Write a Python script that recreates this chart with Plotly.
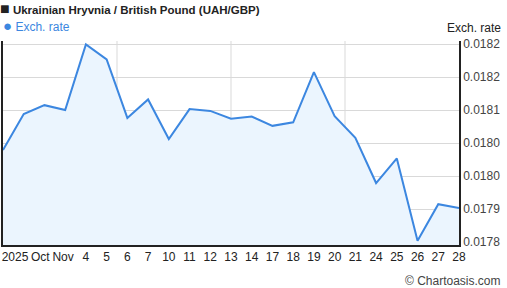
import plotly.graph_objects as go

# ---- data ----
dates = ["2025-10-29", "2025-10-30", "2025-10-31", "2025-11-03", "2025-11-04", "2025-11-05",
         "2025-11-06", "2025-11-07", "2025-11-10", "2025-11-11", "2025-11-12", "2025-11-13",
         "2025-11-14", "2025-11-17", "2025-11-18", "2025-11-19", "2025-11-20", "2025-11-21",
         "2025-11-24", "2025-11-25", "2025-11-26", "2025-11-27", "2025-11-28"]
rates = [0.018009, 0.018091, 0.018111, 0.018100, 0.018249, 0.018215,
         0.018082, 0.018124, 0.018034, 0.018102, 0.018098, 0.018080,
         0.018085, 0.018064, 0.018072, 0.018186, 0.018086, 0.018037,
         0.017934, 0.017990, 0.017803, 0.017886, 0.017877]
x_tick_labels = ["2025", "Oct", "Nov", "4", "5", "6", "7", "10", "11", "12", "13", "14",
                 "17", "18", "19", "20", "21", "24", "25", "26", "27", "28"]
y_tick_values = [0.0178, 0.017875, 0.01795, 0.018025, 0.0181, 0.018175, 0.01825]
y_tick_labels = ["0.0178", "0.0179", "0.0180", "0.0180", "0.0181", "0.0182", "0.0182"]

FONT = "Liberation Sans, Arial, sans-serif"
n = len(rates)
xs = list(range(n))

# label positions: first three labels are nudged (crowded), rest sit on their points
first_shift = [0.58, 1.80, 2.90]
tickvals = first_shift + list(range(n - (len(x_tick_labels) - 3), n))

step = y_tick_values[1] - y_tick_values[0]
pad = step * 3 / 33
yrange = [y_tick_values[0] - pad, y_tick_values[-1] + pad]

fig = go.Figure()
fig.add_trace(go.Scatter(
    x=xs, y=rates, mode="lines",
    line=dict(color="#3C87E0", width=2),
    fill="tozeroy", fillcolor="#EBF5FE",
    hovertext=dates, showlegend=False,
))

W, H = 507, 288
L, R, T, B = 1, 48, 41, 43
pw, ph = W - L - R, H - T - B

def px_to_paper_x(px):
    return (px - L) / pw

def px_to_paper_y(py):
    return (H - B - py) / ph

shapes = []
for k in range(1, 4):
    shapes.append(dict(type="line", xref="x", yref="paper",
                       x0=(n - 1) * k / 4, x1=(n - 1) * k / 4, y0=0, y1=1,
                       line=dict(color="#D9D9D9", width=1), layer="below"))

fig.update_layout(
    width=W, height=H,
    margin=dict(l=L, r=R, t=T, b=B),
    paper_bgcolor="white", plot_bgcolor="white",
    font=dict(family=FONT, size=12, color="#444"),
    title=dict(text="<span style='font-size:16px'>■</span> <b>Ukrainian Hryvnia / British Pound (UAH/GBP)</b>",
               x=0, xref="container", xanchor="left",
               y=1 - 10 / H, yref="container", yanchor="middle",
               font=dict(family=FONT, size=11.5, color="#222")),
    xaxis=dict(range=[0, n - 1], tickvals=tickvals, ticktext=x_tick_labels, tickangle=0,
               showgrid=False, zeroline=False, showline=True, linecolor="#222",
               linewidth=1.5, ticks="", tickfont=dict(family=FONT, size=12, color="#222")),
    yaxis=dict(range=yrange, side="right", tickvals=y_tick_values, ticktext=y_tick_labels,
               showgrid=True, gridcolor="#D9D9D9", gridwidth=1, zeroline=False,
               showline=True, mirror=True, linecolor="#222", linewidth=1.5, ticks="",
               tickfont=dict(family=FONT, size=12, color="#444")),
    shapes=shapes,
    annotations=[
        dict(text="<span style='font-size:15px'>●</span> Exch. rate", xref="paper", yref="paper",
             x=px_to_paper_x(-1), y=px_to_paper_y(25), xanchor="left", yanchor="middle",
             showarrow=False, font=dict(family=FONT, size=12, color="#3C87E0")),
        dict(text="Exch. rate", xref="paper", yref="paper",
             x=px_to_paper_x(503), y=px_to_paper_y(28), xanchor="right", yanchor="middle",
             showarrow=False, font=dict(family=FONT, size=12, color="#222")),
        dict(text="© Chartoasis.com", xref="paper", yref="paper",
             x=px_to_paper_x(503), y=px_to_paper_y(281), xanchor="right", yanchor="middle",
             showarrow=False, font=dict(family=FONT, size=12, color="#444")),
    ],
)

fig.write_html("out.html")
